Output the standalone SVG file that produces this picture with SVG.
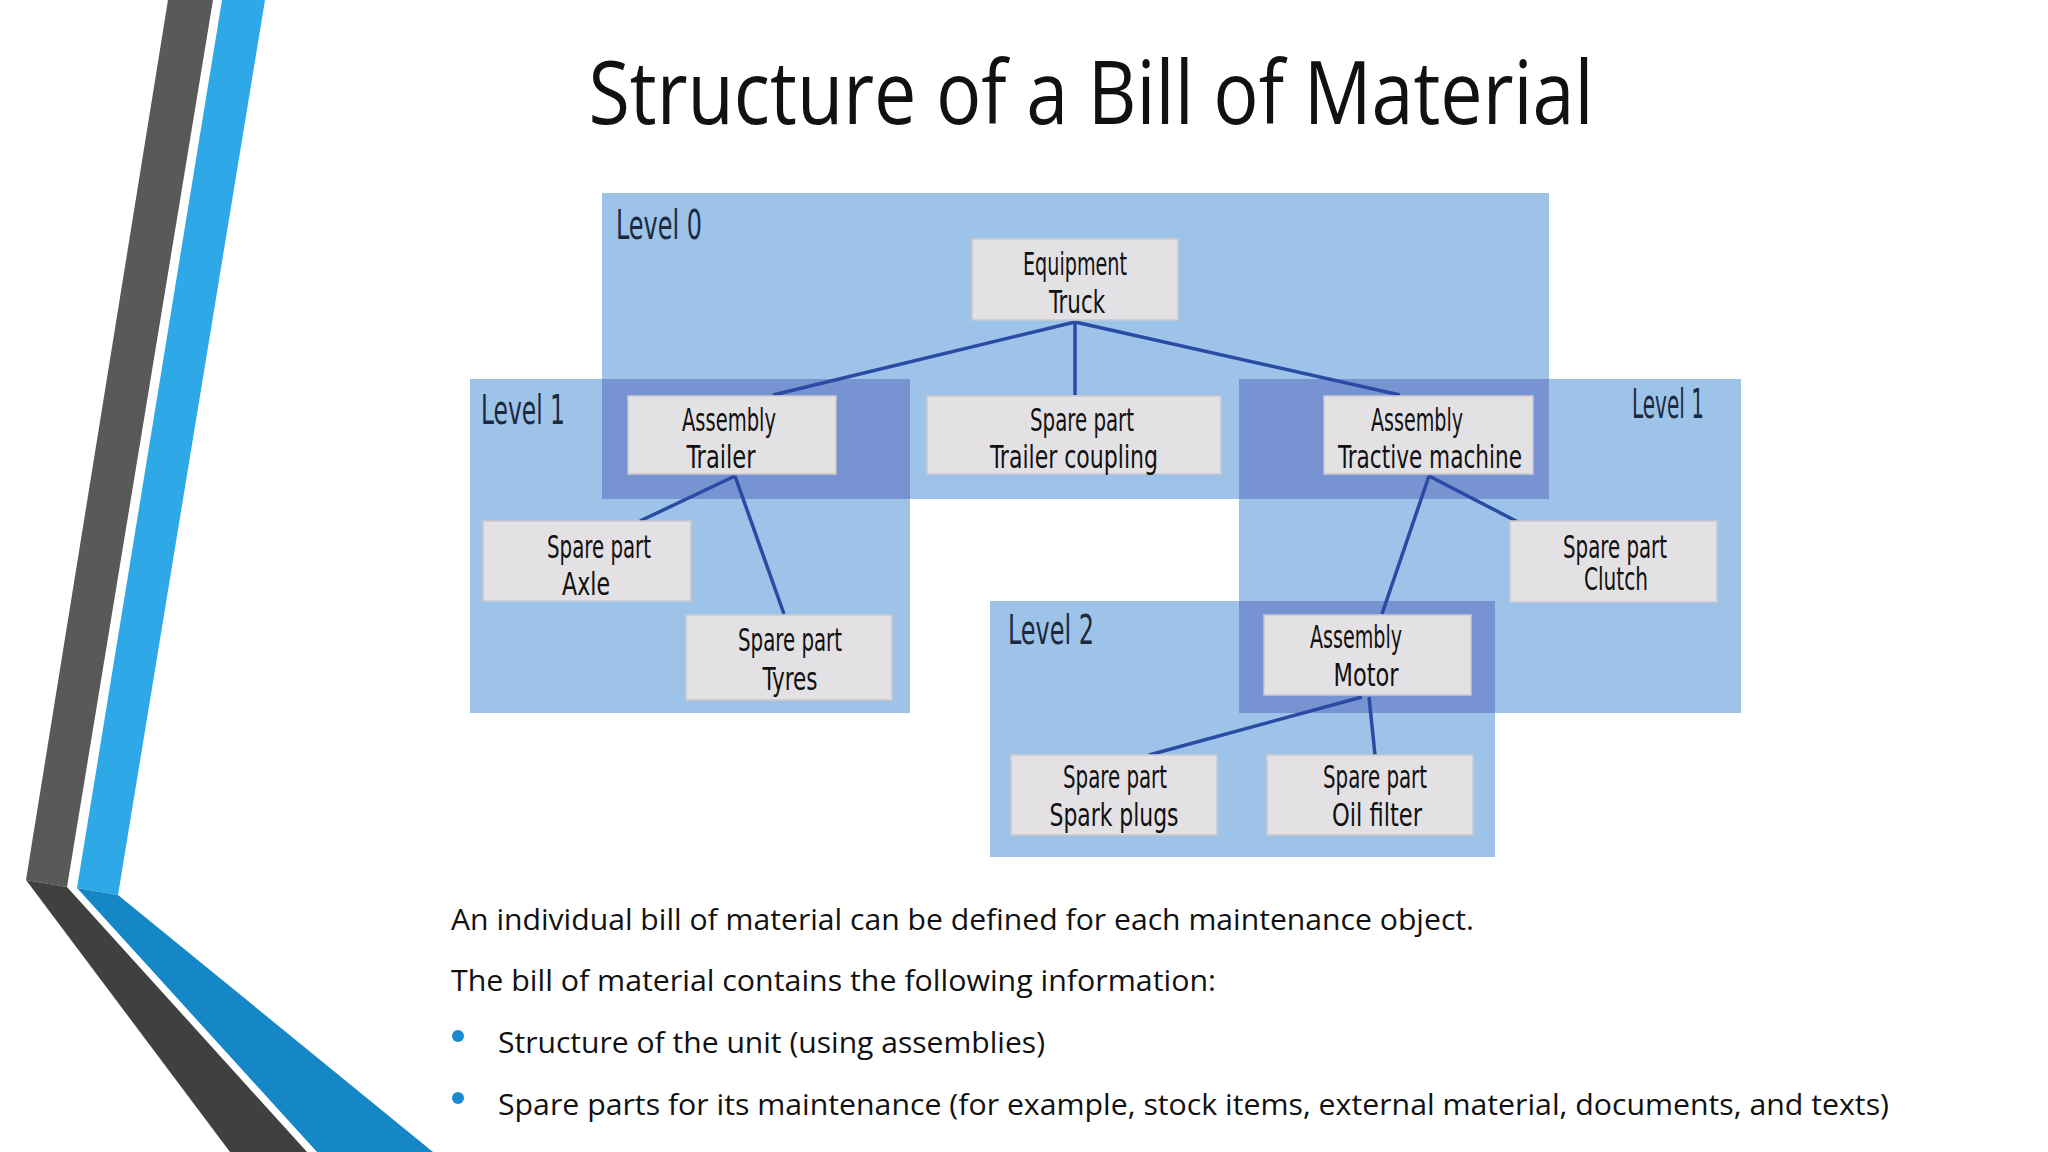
<svg xmlns="http://www.w3.org/2000/svg" width="2048" height="1152" viewBox="0 0 2048 1152">
<defs>
<style>
.lvl{fill:#9dc3e8}
.ov{fill:#7893d1}
.box{fill:#e3e1e3;stroke:#c9c9cf;stroke-width:1.5}
.nt{font-family:"DejaVu Sans Condensed","DejaVu Sans",sans-serif;font-size:32px;fill:#111;text-anchor:middle}
.lt{font-family:"DejaVu Sans Condensed","DejaVu Sans",sans-serif;font-size:40px;fill:#1c2a40}
.body{font-family:"Open Sans","Liberation Sans",sans-serif;font-size:30px;fill:#111}
.cn{stroke:#2b4aa3;stroke-width:3.5;fill:none}
</style>
</defs>
<rect width="2048" height="1152" fill="#ffffff"/>
<g id="decor">
<polygon points="168,0 213,0 67,887 26,880" fill="#595959"/>
<polygon points="222,0 265,0 118,895 77,888" fill="#2fa8e8"/>
<polygon points="26,880 67,887 307,1152 230,1152" fill="#404040"/>
<polygon points="77,888 118,895 433,1152 317,1152" fill="#1687c6"/>
</g>
<text x="1091" y="124" font-family="Open Sans, Liberation Sans, sans-serif" font-size="88" fill="#111" text-anchor="middle" textLength="1005" lengthAdjust="spacingAndGlyphs">Structure of a Bill of Material</text>
<g id="levels">
<rect class="lvl" x="602" y="193" width="947" height="306"/>
<rect class="lvl" x="470" y="379" width="440" height="334"/>
<rect class="lvl" x="1239" y="379" width="502" height="334"/>
<rect class="lvl" x="990" y="601" width="505" height="256"/>
<rect class="ov" x="602" y="379" width="308" height="120"/>
<rect class="ov" x="1239" y="379" width="310" height="120"/>
<rect class="ov" x="1239" y="601" width="256" height="112"/>
<text class="lt" x="616" y="239" textLength="86" lengthAdjust="spacingAndGlyphs">Level 0</text>
<text class="lt" x="481" y="424" textLength="84" lengthAdjust="spacingAndGlyphs">Level 1</text>
<text class="lt" x="1632" y="418" textLength="72" lengthAdjust="spacingAndGlyphs">Level 1</text>
<text class="lt" x="1008" y="644" textLength="86" lengthAdjust="spacingAndGlyphs">Level 2</text>
</g>
<g id="connectors">
<line class="cn" stroke-width="5" x1="1075" y1="322" x2="773" y2="395"/>
<line class="cn" stroke-width="5" x1="1075" y1="322" x2="1075" y2="395"/>
<line class="cn" stroke-width="5" x1="1075" y1="322" x2="1400" y2="395"/>
<line class="cn" x1="735" y1="476" x2="640" y2="521"/>
<line class="cn" x1="735" y1="476" x2="784" y2="614"/>
<line class="cn" x1="1429" y1="476" x2="1382" y2="614"/>
<line class="cn" x1="1429" y1="476" x2="1518" y2="522"/>
<line class="cn" x1="1362" y1="697" x2="1149" y2="755"/>
<line class="cn" x1="1369" y1="697" x2="1375" y2="755"/>
</g>
<g id="n-truck"><rect class="box" x="972" y="239" width="206" height="81"/>
<text class="nt" x="1075" y="275" textLength="104" lengthAdjust="spacingAndGlyphs">Equipment</text>
<text class="nt" x="1077" y="313" textLength="56" lengthAdjust="spacingAndGlyphs">Truck</text></g>
<g id="n-trailer"><rect class="box" x="628" y="396" width="208" height="78"/>
<text class="nt" x="729" y="431" textLength="94" lengthAdjust="spacingAndGlyphs">Assembly</text>
<text class="nt" x="721" y="468" textLength="69" lengthAdjust="spacingAndGlyphs">Trailer</text></g>
<g id="n-coupling"><rect class="box" x="927" y="396" width="294" height="78"/>
<text class="nt" x="1082" y="431" textLength="104" lengthAdjust="spacingAndGlyphs">Spare part</text>
<text class="nt" x="1074" y="468" textLength="168" lengthAdjust="spacingAndGlyphs">Trailer coupling</text></g>
<g id="n-tractive"><rect class="box" x="1324" y="396" width="209" height="78"/>
<text class="nt" x="1417" y="431" textLength="92" lengthAdjust="spacingAndGlyphs">Assembly</text>
<text class="nt" x="1430" y="468" textLength="184" lengthAdjust="spacingAndGlyphs">Tractive machine</text></g>
<g id="n-axle"><rect class="box" x="483" y="521" width="208" height="80"/>
<text class="nt" x="599" y="558" textLength="104" lengthAdjust="spacingAndGlyphs">Spare part</text>
<text class="nt" x="586" y="595" textLength="48" lengthAdjust="spacingAndGlyphs">Axle</text></g>
<g id="n-tyres"><rect class="box" x="686" y="615" width="206" height="85"/>
<text class="nt" x="790" y="651" textLength="104" lengthAdjust="spacingAndGlyphs">Spare part</text>
<text class="nt" x="790" y="690" textLength="55" lengthAdjust="spacingAndGlyphs">Tyres</text></g>
<g id="n-clutch"><rect class="box" x="1510" y="521" width="207" height="81"/>
<text class="nt" x="1615" y="558" textLength="104" lengthAdjust="spacingAndGlyphs">Spare part</text>
<text class="nt" x="1616" y="590" textLength="64" lengthAdjust="spacingAndGlyphs">Clutch</text></g>
<g id="n-motor"><rect class="box" x="1264" y="615" width="207" height="80"/>
<text class="nt" x="1356" y="648" textLength="92" lengthAdjust="spacingAndGlyphs">Assembly</text>
<text class="nt" x="1366" y="686" textLength="65" lengthAdjust="spacingAndGlyphs">Motor</text></g>
<g id="n-spark"><rect class="box" x="1011" y="755" width="206" height="80"/>
<text class="nt" x="1115" y="788" textLength="104" lengthAdjust="spacingAndGlyphs">Spare part</text>
<text class="nt" x="1114" y="826" textLength="129" lengthAdjust="spacingAndGlyphs">Spark plugs</text></g>
<g id="n-oil"><rect class="box" x="1267" y="755" width="206" height="80"/>
<text class="nt" x="1375" y="788" textLength="104" lengthAdjust="spacingAndGlyphs">Spare part</text>
<text class="nt" x="1377" y="826" textLength="90" lengthAdjust="spacingAndGlyphs">Oil filter</text></g>
<g id="body">
<text class="body" x="451" y="930" textLength="1023" lengthAdjust="spacingAndGlyphs">An individual bill of material can be defined for each maintenance object.</text>
<text class="body" x="451" y="991" textLength="765" lengthAdjust="spacingAndGlyphs">The bill of material contains the following information:</text>
<circle cx="458" cy="1036" r="6" fill="#1a8ad0"/>
<text class="body" x="498" y="1053" textLength="547" lengthAdjust="spacingAndGlyphs">Structure of the unit (using assemblies)</text>
<circle cx="458" cy="1098" r="6" fill="#1a8ad0"/>
<text class="body" x="498" y="1115" textLength="1391" lengthAdjust="spacingAndGlyphs">Spare parts for its maintenance (for example, stock items, external material, documents, and texts)</text>
</g>
</svg>
